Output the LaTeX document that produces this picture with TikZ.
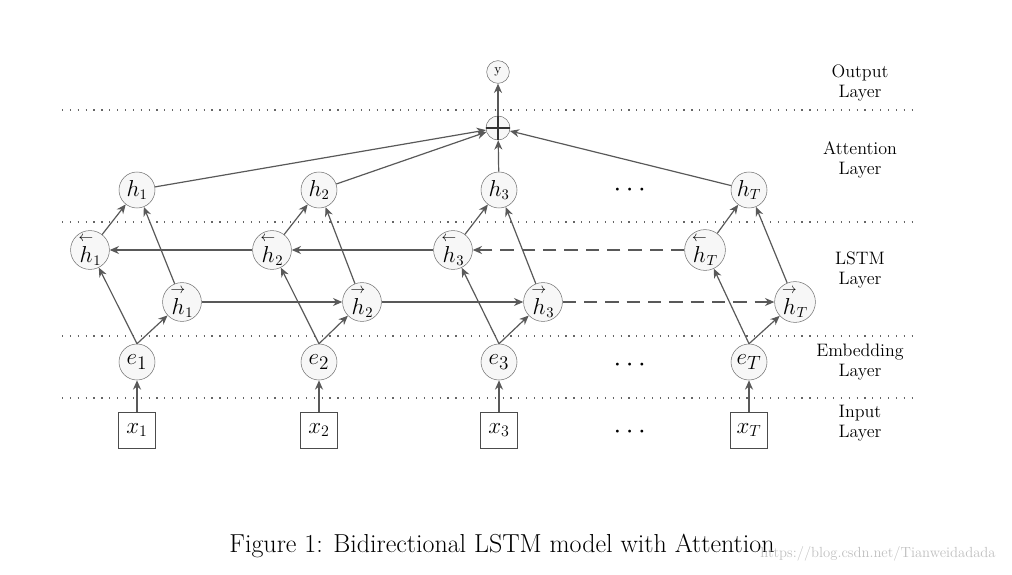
\documentclass[tikz,border=0pt]{standalone}
\usepackage{amsmath}
\usetikzlibrary{arrows.meta}
\begin{document}
\begin{tikzpicture}[x=0.75pt,y=-0.75pt,
  nd/.style={circle,draw=black!55,fill=black!3,minimum size=27pt,inner sep=0pt,font=\fontsize{16}{16}\selectfont},
  bx/.style={draw=black!70,minimum width=28pt,minimum height=27pt,inner sep=0pt,font=\fontsize{18}{18}\selectfont},
  ar/.style={draw=black!65,line width=0.9pt,-{Stealth[length=7pt,width=6pt]}},
  tk/.style={ar,line width=1.5pt},
  dl/.style={draw=black!60,line width=0.9pt,dash pattern=on 0.9pt off 5pt},
  lab/.style={align=center,font=\fontsize{13.5}{15}\selectfont},
  dots/.style={font=\fontsize{20}{20}\selectfont}]
\useasboundingbox (0,0) rectangle (1012,574);
\foreach \yy in {110,222,336,398} \draw[dl] (62,\yy) -- (915,\yy);
\node[nd,minimum size=17pt,font=\normalsize] (y) at (498,72) {y};
\node[nd,minimum size=18pt] (p) at (498,128) {};
\draw[black!80,line width=0.8pt] (p.north)--(p.south) (p.west)--(p.east);
\foreach \i/\xa/\xb/\xf/\s in {1/137/90/182/1,2/319/272/362/2,3/499/453/543/3,T/749/705/795/T}{
  \node[bx] (x\i) at (\xa,430) {$x_{\s}$};
  \node[nd,font=\fontsize{19}{19}\selectfont] (e\i) at (\xa,362) {$e_{\s}$};
  \node[nd] (h\i) at (\xa,190) {$h_{\s}$};
  \node[nd] (b\i) at (\xb,250) {$\overset{\leftarrow}{h}_{\s}$};
  \node[nd] (f\i) at (\xf,302) {$\overset{\rightarrow}{h}_{\s}$};
  \draw[tk] (x\i) -- (e\i);
  \draw[ar] (e\i.north) -- (f\i);
  \draw[ar] (e\i.north) -- (b\i);
  \draw[ar] (f\i) -- (h\i);
  \draw[ar] (b\i) -- (h\i);
  \draw[ar] (h\i) -- (p);
}
\draw[ar] (f1) -- (f2); \draw[ar] (f2) -- (f3); \draw[ar,dash pattern=on 10pt off 6pt] (f3) -- (fT);
\draw[ar] (b2) -- (b1); \draw[ar] (b3) -- (b2); \draw[ar,dash pattern=on 10pt off 6pt] (bT) -- (b3);
\draw[tk] (p) -- (y);
\foreach \yy in {190,365,432} \node[dots] (d\yy) at (632,\yy) {$\cdots$};
\node[lab] (l1) at (860,83) {Output\\Layer};
\node[lab] (l2) at (860,160) {Attention\\Layer};
\node[lab] (l3) at (860,270) {LSTM\\Layer};
\node[lab] (l4) at (860,362) {Embedding\\Layer};
\node[lab] (l5) at (860,423) {Input\\Layer};
\node[font=\fontsize{19.5}{19.5}\selectfont] (cap) at (502,546) {Figure 1: Bidirectional LSTM model with Attention};
\node[font=\fontsize{11}{11}\selectfont,text=black!25] (wm) at (878,554) {https://blog.csdn.net/Tianweidadada};
\end{tikzpicture}
\end{document}
